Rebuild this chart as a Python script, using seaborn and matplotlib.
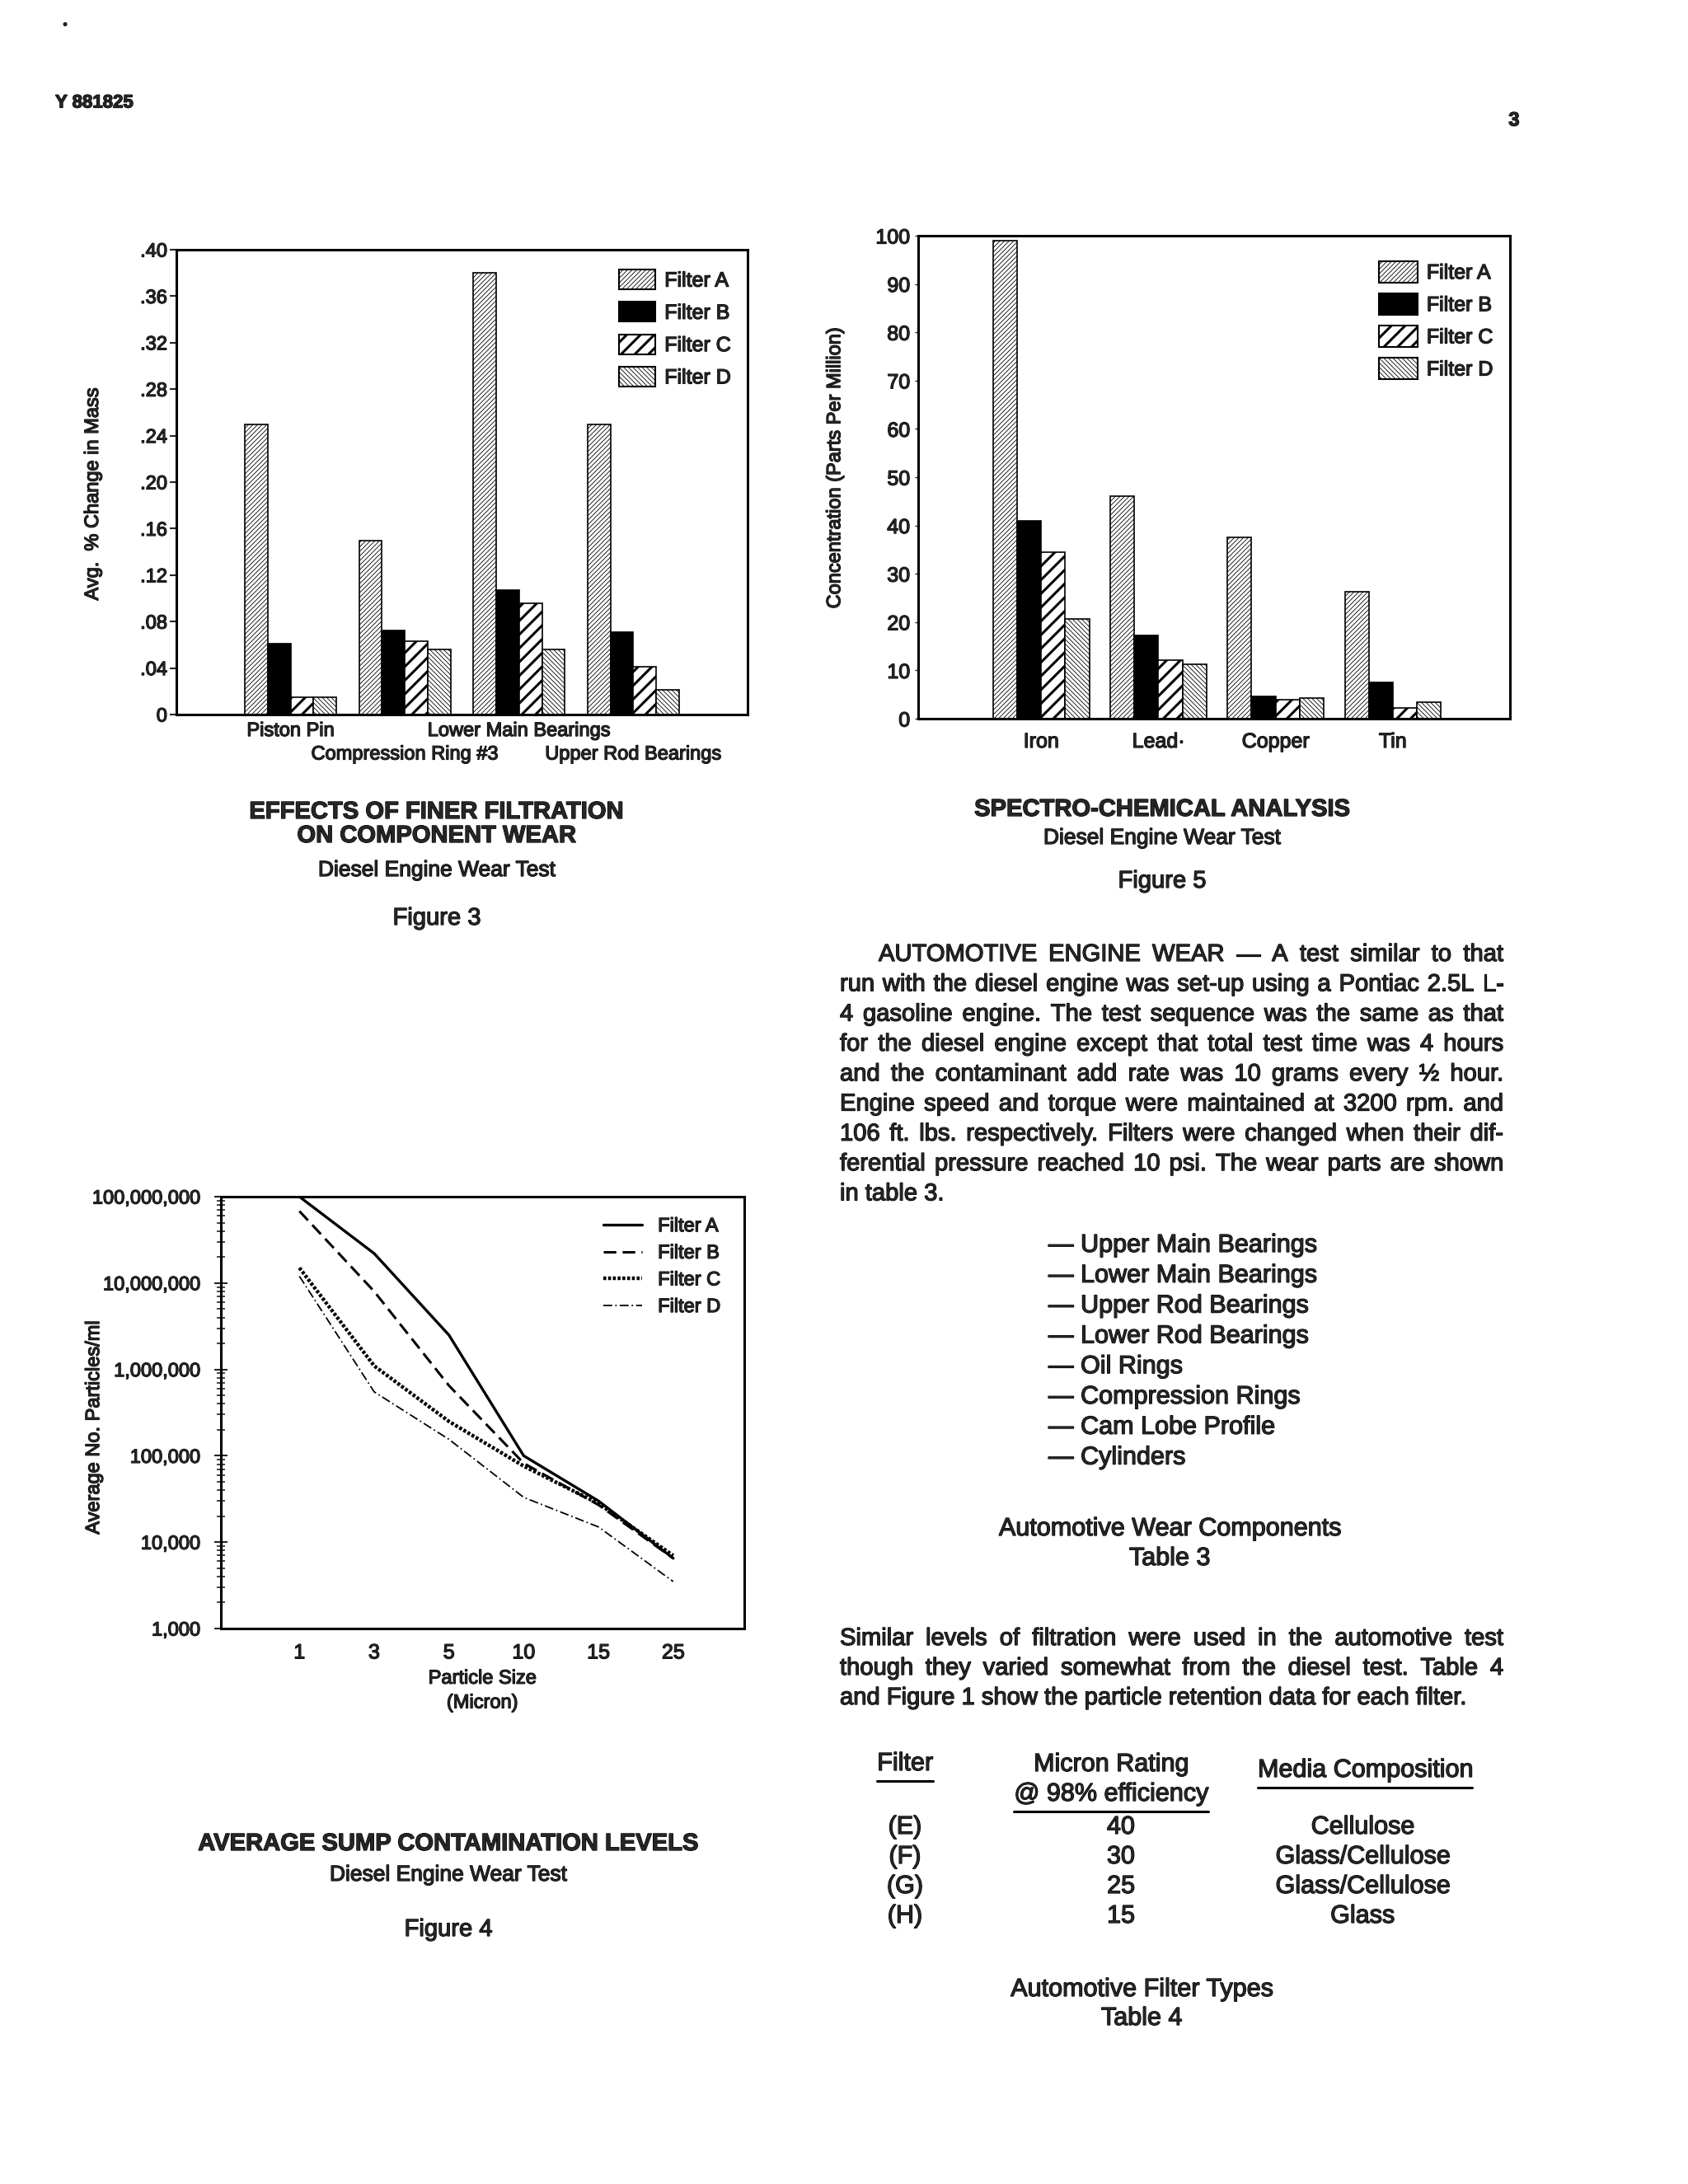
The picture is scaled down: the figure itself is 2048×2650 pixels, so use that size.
import numpy as np
import pandas as pd
import matplotlib.pyplot as plt
import matplotlib.ticker as mticker
import matplotlib.patheffects as pe
from matplotlib.text import Text
from matplotlib.patches import Patch
from matplotlib.lines import Line2D
import seaborn as sns

sns.set_style('white')
plt.rcParams['font.family'] = ['Liberation Sans', 'DejaVu Sans']
plt.rcParams['hatch.color'] = 'black'
plt.rcParams['hatch.linewidth'] = 0.6

W, H = 2048, 2650

filters = ['Filter A', 'Filter B', 'Filter C', 'Filter D']

# Figure 3 - component wear (avg % change in mass)
wear_parts = ['Piston Pin', 'Compression Ring #3', 'Lower Main Bearings', 'Upper Rod Bearings']
wear_a = [0.250, 0.150, 0.380, 0.250]
wear_b = [0.061, 0.072, 0.107, 0.071]
wear_c = [0.015, 0.063, 0.096, 0.041]
wear_d = [0.015, 0.056, 0.056, 0.021]
wear_ticks = [0, .04, .08, .12, .16, .20, .24, .28, .32, .36, .40]
wear_tick_labels = ['0', '.04', '.08', '.12', '.16', '.20', '.24', '.28', '.32', '.36', '.40']

# Figure 5 - spectro-chemical analysis (ppm)
metals = ['Iron', 'Lead\u00b7', 'Copper', 'Tin']
ppm_a = [99.0, 46.0, 37.5, 26.2]
ppm_b = [41.0, 17.2, 4.6, 7.5]
ppm_c = [34.4, 12.2, 3.9, 2.3]
ppm_d = [20.6, 11.2, 4.3, 3.4]
ppm_ticks = [0, 10, 20, 30, 40, 50, 60, 70, 80, 90, 100]

# Figure 4 - sump contamination (particles/ml)
sizes = ['1', '3', '5', '10', '15', '25']
count_a = [1.0e8, 2.2e7, 2.5e6, 1.0e5, 3.0e4, 6.5e3]
count_b = [6.8e7, 8.0e6, 6.5e5, 8.2e4, 2.7e4, 6.5e3]
count_c = [1.5e7, 1.1e6, 2.5e5, 7.6e4, 2.8e4, 7.0e3]
count_d = [1.2e7, 5.5e5, 1.55e5, 3.3e4, 1.5e4, 3.5e3]

# bar styles: facecolor, hatch, hatch linewidth
bar_faces = ['white', 'black', 'white', 'white']
bar_hatches = ['//////', None, '//', '\\\\\\\\\\\\']
hatch_lws = [0.6, 0.6, 2.2, 0.6]


def fx(px):
    return px / W


def fy(py):
    return 1 - py / H


def style_bars(ax):
    for cont, face, hatch, hlw in zip(ax.containers, bar_faces, bar_hatches, hatch_lws):
        for bar in cont:
            bar.set_facecolor(face)
            bar.set_edgecolor('black')
            bar.set_linewidth(1.2)
            if hatch:
                bar.set_hatch(hatch)
                if hasattr(bar, 'set_hatch_linewidth'):
                    bar.set_hatch_linewidth(hlw)


def bar_legend(ax, anchor, hl, hh, spacing):
    handles = [Patch(facecolor=f, edgecolor='black', hatch=h, linewidth=1.5)
               for f, h in zip(bar_faces, bar_hatches)]
    leg = ax.legend(handles, filters, loc='upper right', bbox_to_anchor=anchor,
                    frameon=False, fontsize=18, handlelength=hl, handleheight=hh,
                    labelspacing=spacing, handletextpad=0.45, borderaxespad=0)
    for p, hlw in zip(leg.get_patches(), hatch_lws):
        if hasattr(p, 'set_hatch_linewidth'):
            p.set_hatch_linewidth(hlw)
    return leg


def frame(ax, lw=2.2):
    for s in ax.spines.values():
        s.set_visible(True)
        s.set_color('black')
        s.set_linewidth(lw)


fig = plt.figure(figsize=(W / 100, H / 100), dpi=100)

# ---------------- Figure 3 ----------------
ax3 = fig.add_axes([fx(214), fy(867), (907 - 214) / W, (867 - 303) / H])
df3 = pd.DataFrame({
    'Part': wear_parts * 4,
    'Filter': np.repeat(filters, len(wear_parts)),
    'Value': wear_a + wear_b + wear_c + wear_d,
})
sns.barplot(data=df3, x='Part', y='Value', hue='Filter', order=wear_parts, hue_order=filters,
            palette=dict(zip(filters, bar_faces)), saturation=1, width=0.8, legend=False, ax=ax3)
style_bars(ax3)
ax3.set_xlim(-1.0, 4.0)
ax3.set_ylim(0, 0.40)
ax3.set_yticks(wear_ticks)
ax3.set_yticklabels(wear_tick_labels)
# staggered category labels: even ones on the first row, odd ones below
ax3.set_xticks([0, 2], [wear_parts[0], wear_parts[2]])
ax3.set_xticks([1, 3], [wear_parts[1], wear_parts[3]], minor=True)
ax3.set_xlabel('')
ax3.set_ylabel('Avg.  % Change in Mass', fontsize=17)
ax3.yaxis.set_label_coords(-0.13, 0.475)
ax3.tick_params(axis='y', left=True, direction='out', length=6, width=1.5, labelsize=17, pad=2)
ax3.tick_params(axis='x', which='major', bottom=False, labelsize=17, pad=3)
ax3.tick_params(axis='x', which='minor', bottom=False, labelsize=17, pad=25)
frame(ax3)
bar_legend(ax3, (0.985, 0.975), 1.75, 1.1, 0.55)

# ---------------- Figure 5 ----------------
ax5 = fig.add_axes([fx(1114), fy(872), (1832 - 1114) / W, (872 - 286) / H])
df5 = pd.DataFrame({
    'Metal': metals * 4,
    'Filter': np.repeat(filters, len(metals)),
    'Value': ppm_a + ppm_b + ppm_c + ppm_d,
})
sns.barplot(data=df5, x='Metal', y='Value', hue='Filter', order=metals, hue_order=filters,
            palette=dict(zip(filters, bar_faces)), saturation=1, width=0.82, legend=False, ax=ax5)
style_bars(ax5)
ax5.set_xlim(-1.05, 4.0)
ax5.set_ylim(0, 100)
ax5.set_yticks(ppm_ticks)
ax5.set_xlabel('')
ax5.set_ylabel('Concentration (Parts Per Million)', fontsize=17)
ax5.yaxis.set_label_coords(-0.125, 0.52)
ax5.tick_params(axis='y', left=True, direction='out', length=3, width=1, labelsize=18, pad=4)
ax5.tick_params(axis='x', bottom=False, labelsize=18, pad=8)
frame(ax5)
bar_legend(ax5, (0.985, 0.965), 1.85, 1.25, 0.5)

# ---------------- Figure 4 ----------------
ax4 = fig.add_axes([fx(268), fy(1976), (903 - 268) / W, (1976 - 1452) / H])
x_pos = np.arange(len(sizes))
line_styles = [
    dict(linestyle='-', linewidth=2.4),
    dict(linestyle=(0, (5, 2.5)), linewidth=2.2),
    dict(linestyle=(0, (0.8, 0.5)), linewidth=3.2),
    dict(linestyle=(0, (6, 2, 1, 2)), linewidth=1.3),
]
for vals, st in zip([count_a, count_b, count_c, count_d], line_styles):
    sns.lineplot(x=x_pos, y=vals, ax=ax4, color='black', **st)
ax4.set_yscale('log')
ax4.set_ylim(1e3, 1e8)
ax4.set_xlim(-1.05, 5.95)
ax4.set_xticks(x_pos)
ax4.set_xticklabels(sizes)
ax4.yaxis.set_major_locator(mticker.LogLocator(base=10))
ax4.yaxis.set_minor_locator(mticker.LogLocator(base=10, subs=np.arange(2, 10)))
ax4.yaxis.set_minor_formatter(mticker.NullFormatter())
ax4.yaxis.set_major_formatter(mticker.FuncFormatter(lambda v, p: f'{int(round(v)):,}'))
ax4.tick_params(axis='y', which='major', left=True, direction='inout', length=12, width=1.5,
                labelsize=17, pad=12)
ax4.tick_params(axis='y', which='minor', left=True, direction='inout', length=7, width=1.2)
ax4.tick_params(axis='x', bottom=False, labelsize=18, pad=9)
ax4.set_xlabel('Particle Size\n(Micron)', fontsize=17, linespacing=1.45)
ax4.xaxis.set_label_coords(0.5, -0.095)
ax4.set_ylabel('Average No. Particles/ml', fontsize=17)
ax4.yaxis.set_label_coords(-0.225, 0.466)
frame(ax4)
line_handles = [Line2D([0], [0], color='black', **st) for st in line_styles]
ax4.legend(line_handles, filters, loc='upper right', bbox_to_anchor=(0.97, 0.97), frameon=False,
           fontsize=17, handlelength=2.0, labelspacing=0.45, handletextpad=0.8, borderaxespad=0)

# ---------------- page text ----------------
fig.text(fx(79), fy(30), '\u2022', fontsize=10, ha='center', va='center')
fig.text(fx(67), fy(125), 'Y 881825', fontsize=16, fontweight='bold', va='center')
fig.text(fx(1837), fy(146), '3', fontsize=17, fontweight='bold', ha='center', va='center')

captions = [
    (530, 985, 'EFFECTS OF FINER FILTRATION', 21, 'bold'),
    (530, 1014, 'ON COMPONENT WEAR', 21, 'bold'),
    (530, 1056, 'Diesel Engine Wear Test', 19, 'normal'),
    (530, 1114, 'Figure 3', 21, 'normal'),
    (1410, 982, 'SPECTRO-CHEMICAL ANALYSIS', 21, 'bold'),
    (1410, 1017, 'Diesel Engine Wear Test', 19, 'normal'),
    (1410, 1069, 'Figure 5', 21, 'normal'),
    (544, 2237, 'AVERAGE SUMP CONTAMINATION LEVELS', 21, 'bold'),
    (544, 2275, 'Diesel Engine Wear Test', 19, 'normal'),
    (544, 2341, 'Figure 4', 21, 'normal'),
    (1419, 1855, 'Automotive Wear Components', 22, 'normal'),
    (1419, 1891, 'Table 3', 22, 'normal'),
    (1385, 2414, 'Automotive Filter Types', 22, 'normal'),
    (1385, 2449, 'Table 4', 22, 'normal'),
]
for x, y, s, size, weight in captions:
    fig.text(fx(x), fy(y), s, fontsize=size, fontweight=weight, ha='center', va='center')

renderer = fig.canvas.get_renderer()


def justify(lines, left, right, y0, step, size, indent=0):
    for i, line in enumerate(lines):
        yb = fy(y0 + i * step + 10)
        x0 = left + (indent if i == 0 else 0)
        if i == len(lines) - 1:
            fig.text(fx(x0), yb, line, fontsize=size, va='baseline')
            continue
        words = line.split(' ')
        texts = [fig.text(0, yb, w, fontsize=size, va='baseline') for w in words]
        widths = [t.get_window_extent(renderer).width for t in texts]
        gap = (right - x0 - sum(widths)) / (len(words) - 1)
        x = x0
        for t, w in zip(texts, widths):
            t.set_x(fx(x))
            x += w + gap


para1 = [
    'AUTOMOTIVE ENGINE WEAR \u2014 A test similar to that',
    'run with the diesel engine was set-up using a Pontiac 2.5L L-',
    '4 gasoline engine. The test sequence was the same as that',
    'for the diesel engine except that total test time was 4 hours',
    'and the contaminant add rate was 10 grams every \u00bd hour.',
    'Engine speed and torque were maintained at 3200 rpm. and',
    '106 ft. lbs. respectively. Filters were changed when their dif-',
    'ferential pressure reached 10 psi. The wear parts are shown',
    'in table 3.',
]
justify(para1, 1019, 1824, 1156, 36.3, 21, indent=47)

wear_components = ['Upper Main Bearings', 'Lower Main Bearings', 'Upper Rod Bearings',
                   'Lower Rod Bearings', 'Oil Rings', 'Compression Rings', 'Cam Lobe Profile',
                   'Cylinders']
for i, item in enumerate(wear_components):
    fig.text(fx(1272), fy(1511 + i * 36.8), '\u2014 ' + item, fontsize=22, va='center')

para2 = [
    'Similar levels of filtration were used in the automotive test',
    'though they varied somewhat from the diesel test. Table 4',
    'and Figure 1 show the particle retention data for each filter.',
]
justify(para2, 1019, 1824, 1986, 36, 21)

# Table 4
table_filters = ['(E)', '(F)', '(G)', '(H)']
table_microns = ['40', '30', '25', '15']
table_media = ['Cellulose', 'Glass/Cellulose', 'Glass/Cellulose', 'Glass']


def underlined(x, y, s, size, pad=6):
    t = fig.text(fx(x), fy(y), s, fontsize=size, ha='center', va='center')
    bb = t.get_window_extent(renderer)
    yl = bb.y0 - pad
    fig.add_artist(Line2D([bb.x0 / W, bb.x1 / W], [yl / H, yl / H], color='black',
                          linewidth=2.2, transform=fig.transFigure))


underlined(1098, 2140, 'Filter', 22)
fig.text(fx(1348), fy(2141), 'Micron Rating', fontsize=22, ha='center', va='center')
underlined(1348, 2177, '@ 98% efficiency', 22)
underlined(1656, 2148, 'Media Composition', 22)
for i, (f, m, c) in enumerate(zip(table_filters, table_microns, table_media)):
    y = 2217 + i * 36
    fig.text(fx(1098), fy(y), f, fontsize=22, ha='center', va='center')
    fig.text(fx(1360), fy(y), m, fontsize=22, ha='center', va='center')
    fig.text(fx(1653), fy(y), c, fontsize=22, ha='center', va='center')

# the scanned print is heavy: thicken every glyph a little
for t in fig.findobj(Text):
    t.set_path_effects([pe.withStroke(linewidth=0.9, foreground='black')])

fig.savefig('out.png', dpi=100)
plt.close(fig)
